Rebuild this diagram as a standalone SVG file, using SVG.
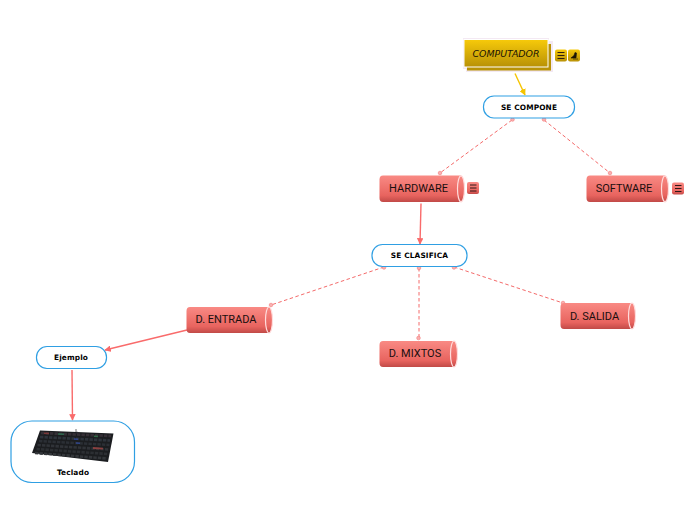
<svg xmlns="http://www.w3.org/2000/svg" width="696" height="520" viewBox="0 0 696 520">
<style>
.lbl{font-family:Roboto,"Liberation Sans",sans-serif;font-size:11px;fill:#1a0f0f;text-anchor:middle}
.sub{font-family:"DejaVu Sans",Verdana,sans-serif;font-size:7.4px;font-weight:700;fill:#000;text-anchor:middle;letter-spacing:.12px}
.box{fill:#fff;stroke:#2f9fe3;stroke-width:1.2}
.cyl{fill:url(#red)}
.cap{fill:url(#red);stroke:#ffdcdc;stroke-width:1.2}
.dash{fill:none;stroke:#f46a6a;stroke-width:1;stroke-dasharray:3.500 2.500}
.solid{fill:none;stroke:#f96b6b;stroke-width:1.400;marker-end:url(#ah)}
.dot{fill:#f9b0b0;stroke:#f47a7a;stroke-width:.6}
.ic{stroke:#1a0f0f;stroke-width:.9}
.keys{fill:none;stroke-width:2.600;stroke-dasharray:3.400 1.100}
</style>
<defs>
<linearGradient id="red" x1="0" y1="0" x2="0" y2="1"><stop offset="0" stop-color="#f98a84"/><stop offset=".75" stop-color="#e8645f"/><stop offset="1" stop-color="#c14a47"/></linearGradient>
<linearGradient id="gold" x1="0" y1="0" x2="0" y2="1"><stop offset="0" stop-color="#f6c90a"/><stop offset="1" stop-color="#b99206"/></linearGradient>
<marker id="ah" viewBox="0 0 10 10" refX="9" refY="5" markerWidth="6.500" markerHeight="6.500" markerUnits="userSpaceOnUse" orient="auto"><path d="M0 0L10 5L0 10Z" fill="#f96b6b"/></marker>
<marker id="ahy" viewBox="0 0 10 10" refX="9" refY="5" markerWidth="6.500" markerHeight="6.500" markerUnits="userSpaceOnUse" orient="auto"><path d="M0 0L10 5L0 10Z" fill="#f5c400"/></marker>
</defs>
<g id="connectors">
<path d="M515 73.500L525 95" fill="none" stroke="#f5c400" stroke-width="1.400" marker-end="url(#ahy)"/>
<path class="dash" d="M512 120L440 173"/>
<path class="dash" d="M544 120L610 173"/>
<path class="dash" d="M384 267L271 305"/>
<path class="dash" d="M419 268V339"/>
<path class="dash" d="M454 267L563 303"/>
<circle class="dot" cx="512.500" cy="119.500" r="1.800"/>
<circle class="dot" cx="544" cy="119.500" r="1.800"/>
<circle class="dot" cx="440" cy="173" r="1.800"/>
<circle class="dot" cx="610" cy="173" r="1.800"/>
<circle class="dot" cx="384" cy="267.500" r="1.800"/>
<circle class="dot" cx="419" cy="268" r="1.800"/>
<circle class="dot" cx="454" cy="267.500" r="1.800"/>
<circle class="dot" cx="271" cy="305" r="1.800"/>
<circle class="dot" cx="418.500" cy="338" r="1.800"/>
<circle class="dot" cx="563" cy="303" r="1.800"/>
<path class="solid" d="M421 203.500L420 244"/>
<path class="solid" d="M187 330L105 350"/>
<path class="solid" d="M72 370L72.500 420"/>
</g>
<g id="computador">
<rect x="466" y="41" width="87" height="31" fill="#f3e9f3"/>
<rect x="463" y="38" width="86" height="31" fill="#f3e9f3"/>
<rect x="467" y="44" width="84" height="26.500" fill="#b89206"/>
<rect x="463.500" y="39" width="85" height="28.500" fill="#fff"/>
<rect x="464.500" y="40" width="83" height="26.500" fill="url(#gold)"/>
<text x="506" y="57" font-family="'DejaVu Sans',sans-serif" font-style="italic" font-size="9.500" fill="#1a1405" text-anchor="middle" textLength="67" lengthAdjust="spacingAndGlyphs">COMPUTADOR</text>
<rect x="555" y="49.500" width="12" height="12" rx="2" fill="url(#gold)"/>
<path class="ic" d="M557.500 52.500h7M557.500 55.500h7M557.500 58.500h7"/>
<rect x="568" y="49.500" width="12" height="12" rx="2" fill="url(#gold)"/>
<path d="M571 58L574 55.500L575 52.500L576.500 53L576 58ZM573 59h5" fill="#1a1405" stroke="#1a1405" stroke-width=".6"/>
</g>
<g id="se-compone">
<rect class="box" x="483.500" y="96" width="91" height="22" rx="10.500"/>
<text class="sub" x="529" y="110">SE COMPONE</text>
</g>
<g id="hardware">
<path class="cyl" d="M383 175.500H461V202H383Q379.500 202 379.500 198V179.500Q379.500 175.500 383 175.500Z"/>
<ellipse class="cap" cx="461" cy="188.800" rx="3.500" ry="13"/>
<text class="lbl" x="418.500" y="192">HARDWARE</text>
<rect x="467" y="182" width="12" height="12" rx="2" fill="url(#red)"/>
<path class="ic" d="M470 185h6.500M470 188h6.500M470 191h6.500"/>
</g>
<g id="software">
<path class="cyl" d="M590 175.500H665V202H590Q586.500 202 586.500 198V179.500Q586.500 175.500 590 175.500Z"/>
<ellipse class="cap" cx="665" cy="188.800" rx="3.500" ry="13"/>
<text class="lbl" x="624" y="192">SOFTWARE</text>
<rect x="672" y="182.500" width="12" height="12" rx="2" fill="url(#red)"/>
<path class="ic" d="M675 185.500h6.500M675 188.500h6.500M675 191.500h6.500"/>
</g>
<g id="se-clasifica">
<rect class="box" x="372" y="244.500" width="95" height="22" rx="10.500"/>
<text class="sub" x="419.500" y="258">SE CLASIFICA</text>
</g>
<g id="d-entrada">
<path class="cyl" d="M190 307H269V333H190Q186.500 333 186.500 329V311Q186.500 307 190 307Z"/>
<ellipse class="cap" cx="269" cy="320" rx="3.500" ry="13"/>
<text class="lbl" x="226" y="323">D. ENTRADA</text>
</g>
<g id="d-mixtos">
<path class="cyl" d="M383 341H454V367H383Q379.500 367 379.500 363V345Q379.500 341 383 341Z"/>
<ellipse class="cap" cx="454" cy="354" rx="3.500" ry="13"/>
<text class="lbl" x="415" y="357">D. MIXTOS</text>
</g>
<g id="d-salida">
<path class="cyl" d="M564 303H632V329H564Q560.500 329 560.500 325V307Q560.500 303 564 303Z"/>
<ellipse class="cap" cx="632" cy="316" rx="3.500" ry="13"/>
<text class="lbl" x="594.500" y="319.500">D. SALIDA</text>
</g>
<g id="ejemplo">
<rect class="box" x="36.500" y="346.500" width="70" height="22" rx="10.500"/>
<text class="sub" x="71" y="360">Ejemplo</text>
</g>
<g id="teclado">
<rect class="box" x="11" y="421" width="123.500" height="61.500" rx="21"/>
<path d="M40 430.500L113.500 433.500L108 462L32 453Z" fill="#1b1d20"/>
<path d="M76 429v3" stroke="#333" stroke-width=".7"/>
<path d="M77 431.500V434" stroke="#334" stroke-width=".7"/>
<path class="keys" d="M41 433L111 436" stroke="#352f36"/>
<path class="keys" d="M40 437L110 440.500" stroke="#2e343c"/>
<path class="keys" d="M39 441L109.500 445" stroke="#2b2f35"/>
<path class="keys" d="M37.500 445L108.500 449.500" stroke="#303338"/>
<path class="keys" d="M36.500 449L108 454" stroke="#2c2f33"/>
<path class="keys" d="M35 453L107 458.500" stroke="#33363a"/>
<path d="M44 433.300l5 .2" stroke="#7a3838" stroke-width="1.600" fill="none"/>
<path d="M58 434l6 .3" stroke="#2f6a50" stroke-width="1.600" fill="none"/>
<path d="M74 439l4 .2M76 443l4 .2" stroke="#30458c" stroke-width="1.600" fill="none"/>
<path d="M94 436.300l4 .2" stroke="#2f6a45" stroke-width="1.600" fill="none"/>
<path d="M93 448l10 .7" stroke="#8a4040" stroke-width="1.800" fill="none"/>
<text class="sub" x="73" y="475">Teclado</text>
</g>
</svg>
